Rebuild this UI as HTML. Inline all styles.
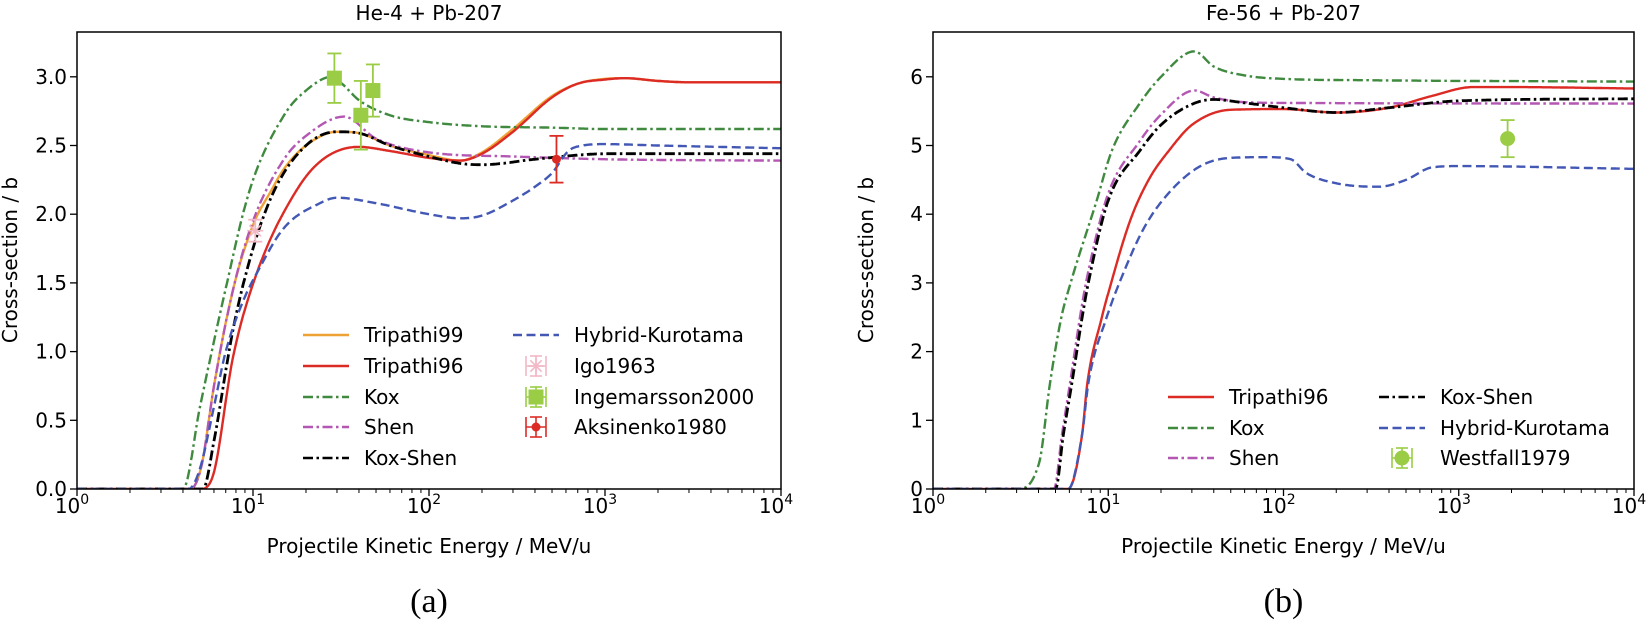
<!DOCTYPE html>
<html><head><meta charset="utf-8"><style>
html,body{margin:0;padding:0;background:#fff;}
svg{display:block;font-family:"DejaVu Sans","Liberation Sans",sans-serif;}
</style></head><body>
<svg id="s" width="1650" height="623" xmlns="http://www.w3.org/2000/svg"></svg>
<script>
const NS="http://www.w3.org/2000/svg";
const S=document.getElementById('s');
function el(t,a,p){const e=document.createElementNS(NS,t);for(const k in a)e.setAttribute(k,a[k]);(p||S).appendChild(e);return e;}
function txt(x,y,s,a){const e=el('text',Object.assign({x:x,y:y,'font-size':20,fill:'#000'},a||{}));e.textContent=s;return e;}
const C={orange:'#eea236',red:'#dc2b25',green:'#3f8a3f',mag:'#b357b3',blue:'#4358b5',lime:'#9acd45',pink:'#f2b8c6',black:'#000'};
const ST={solid:'',dashdot:'10,3.5,2.5,3.5',dash:'9,4.5'};
function mono(xs,ys){
 const n=xs.length,d=[],m=[];
 for(let i=0;i<n-1;i++)d.push((ys[i+1]-ys[i])/(xs[i+1]-xs[i]));
 m[0]=d[0];m[n-1]=d[n-2];
 for(let i=1;i<n-1;i++){m[i]=(d[i-1]*d[i]<=0)?0:(d[i-1]+d[i])/2;}
 for(let i=0;i<n-1;i++){if(d[i]==0){m[i]=0;m[i+1]=0;continue;}const a=m[i]/d[i],b=m[i+1]/d[i],s=a*a+b*b;if(s>9){const t=3/Math.sqrt(s);m[i]=t*a*d[i];m[i+1]=t*b*d[i];}}
 return x=>{let i=0;while(i<n-2&&x>xs[i+1])i++;const h=xs[i+1]-xs[i],t=(x-xs[i])/h,t2=t*t,t3=t2*t;
  return (2*t3-3*t2+1)*ys[i]+(t3-2*t2+t)*h*m[i]+(-2*t3+3*t2)*ys[i+1]+(t3-t2)*h*m[i+1];};
}
function panel(P){
 const X=e=>P.x0+P.dx*Math.log10(e), Y=s=>489-P.dy*s;
 const cid='c'+P.x0;
 const cp=el('clipPath',{id:cid});el('rect',{x:P.x0,y:32,width:P.x1-P.x0,height:457},cp);
 const g=el('g',{'clip-path':'url(#'+cid+')'});
 P.curves.forEach(c=>{
  const xs=c.d.map(p=>Math.log10(p[0])),ys=c.d.map(p=>p[1]);
  const f=mono(xs,ys);const pts=[];
  for(let lx=0;lx<=4.0001;lx+=0.004){pts.push([P.x0+P.dx*lx,Y(Math.max(0,f(lx)))]);}
  el('polyline',{points:pts.map(p=>p[0].toFixed(1)+','+p[1].toFixed(1)).join(' '),fill:'none',stroke:C[c.c],'stroke-width':c.w||2.4,'stroke-dasharray':ST[c.s]},g);
 });
 P.pts.forEach(p=>{
  const x=X(p.e),y=Y(p.v),y1=Y(p.v+p.err),y2=Y(p.v-p.err),col=C[p.c];
  el('line',{x1:x,y1:y1,x2:x,y2:y2,stroke:col,'stroke-width':1.8});
  el('line',{x1:x-7,y1:y1,x2:x+7,y2:y1,stroke:col,'stroke-width':1.8});
  el('line',{x1:x-7,y1:y2,x2:x+7,y2:y2,stroke:col,'stroke-width':1.8});
  marker(p.m,x,y,col);
 });
 el('rect',{x:P.x0,y:32,width:P.x1-P.x0,height:457,fill:'none',stroke:'#000','stroke-width':1.5});
 for(let k=0;k<=4;k++){
  const x=P.x0+P.dx*k;
  el('line',{x1:x,y1:489,x2:x,y2:496,stroke:'#000','stroke-width':1.3});
  const t=txt(x-5,513,'10',{'text-anchor':'middle'});
  const sup=el('tspan',{'font-size':14,dy:-9});sup.textContent=k;t.appendChild(sup);
  if(k<4)for(let m=2;m<=9;m++){const xm=x+P.dx*Math.log10(m);el('line',{x1:xm,y1:489,x2:xm,y2:493,stroke:'#000','stroke-width':1});}
 }
 P.yt.forEach(v=>{const y=Y(v);el('line',{x1:P.x0-7,y1:y,x2:P.x0,y2:y,stroke:'#000','stroke-width':1.3});txt(P.x0-10,y+7,P.yf(v),{'text-anchor':'end'});});
 txt((P.x0+P.x1)/2,553,'Projectile Kinetic Energy / MeV/u',{'text-anchor':'middle'});
 txt((P.x0+P.x1)/2,20,P.title,{'text-anchor':'middle'});
 txt(0,0,'Cross-section / b',{'text-anchor':'middle',transform:'translate('+(P.x0-60)+',260) rotate(-90)'});
 txt((P.x0+P.x1)/2,612,P.lab,{'text-anchor':'middle','font-size':34,'font-family':'"Liberation Serif",serif'});
 P.leg.forEach(l=>{
  if(l.s!==undefined){el('line',{x1:l.x,y1:l.y-7,x2:l.x+46,y2:l.y-7,stroke:C[l.c],'stroke-width':2.4,'stroke-dasharray':ST[l.s]});}
  else{const x=l.x+23,y=l.y-7,col=C[l.c];
   el('line',{x1:x,y1:y-10,x2:x,y2:y+10,stroke:col,'stroke-width':1.6});el('line',{x1:x-10,y1:y,x2:x+10,y2:y,stroke:col,'stroke-width':1.6});
   el('line',{x1:x-10,y1:y-10,x2:x-10,y2:y+10,stroke:col,'stroke-width':1.6});el('line',{x1:x+10,y1:y-10,x2:x+10,y2:y+10,stroke:col,'stroke-width':1.6});
   el('line',{x1:x-6,y1:y-10,x2:x+6,y2:y-10,stroke:col,'stroke-width':1.6});el('line',{x1:x-6,y1:y+10,x2:x+6,y2:y+10,stroke:col,'stroke-width':1.6});
   marker(l.m,x,y,col);}
  txt(l.x+61,l.y,l.t);
 });
}
function marker(m,x,y,col){
 if(m=='sq')el('rect',{x:x-7.5,y:y-7.5,width:15,height:15,fill:col});
 else if(m=='dot')el('circle',{cx:x,cy:y,r:4.5,fill:col});
 else if(m=='circ')el('circle',{cx:x,cy:y,r:7.5,fill:col});
 else if(m=='star'){for(let a=0;a<180;a+=45){const r=a*Math.PI/180;el('line',{x1:x-8*Math.cos(r),y1:y-8*Math.sin(r),x2:x+8*Math.cos(r),y2:y+8*Math.sin(r),stroke:col,'stroke-width':1.6});}}
}
panel({x0:77,x1:781,dx:176,dy:137.4,title:'He-4 + Pb-207',lab:'(a)',yt:[0,0.5,1,1.5,2,2.5,3],yf:v=>v.toFixed(1),
 curves:[
 {c:'orange',s:'solid',d:[[1,0],[4.4,0],[5.1,0.17],[6,0.75],[7.7,1.45],[10,1.92],[12.8,2.18],[15,2.33],[20,2.5],[30,2.6],[40,2.59],[60,2.5],[100,2.43],[150,2.39],[200,2.45],[300,2.62],[500,2.86],[700,2.95],[1000,2.985],[1300,2.99],[2000,2.97],[3000,2.96],[10000,2.96]]},
 {c:'red',s:'solid',d:[[1,0],[5.0,0],[5.93,0.1],[7.7,0.96],[10.5,1.57],[17.8,2.18],[25,2.4],[40,2.49],[60,2.46],[100,2.41],[150,2.39],[200,2.44],[300,2.6],[500,2.85],[700,2.95],[1000,2.98],[1300,2.99],[2000,2.97],[3000,2.96],[10000,2.96]]},
 {c:'green',s:'dashdot',d:[[1,0],[4,0],[5,0.6],[6.75,1.37],[9.6,2.18],[15,2.72],[20,2.9],[28,3.0],[32,2.95],[40,2.83],[60,2.72],[100,2.67],[200,2.64],[500,2.63],[1000,2.62],[10000,2.62]]},
 {c:'mag',s:'dashdot',d:[[1,0],[4.4,0],[5.1,0.17],[6,0.75],[7.7,1.45],[10,1.95],[15,2.4],[20,2.57],[33,2.71],[50,2.55],[100,2.45],[300,2.42],[1000,2.40],[10000,2.39]]},
 {c:'black',s:'dashdot',w:2.8,d:[[1,0],[5.2,0],[6,0.35],[7.7,1.16],[10,1.75],[13.3,2.18],[20,2.5],[30,2.6],[40,2.59],[60,2.5],[100,2.42],[150,2.37],[200,2.36],[400,2.4],[700,2.43],[1000,2.44],[10000,2.44]]},
 {c:'blue',s:'dash',d:[[1,0],[4.3,0],[5,0.15],[6,0.6],[7,1.0],[8.8,1.37],[10.5,1.57],[15,1.9],[24,2.08],[30,2.12],[50,2.08],[100,2.0],[150,1.97],[200,1.99],[300,2.1],[400,2.2],[500,2.3],[620,2.46],[750,2.5],[1000,2.51],[2000,2.5],[10000,2.48]]},
 ],
 pts:[{e:10.3,v:1.88,err:0.08,c:'pink',m:'star'},{e:29,v:2.99,err:0.18,c:'lime',m:'sq'},{e:41,v:2.72,err:0.25,c:'lime',m:'sq'},{e:48,v:2.9,err:0.19,c:'lime',m:'sq'},{e:530,v:2.40,err:0.17,c:'red',m:'dot'}],
 leg:[{x:303,y:342,t:'Tripathi99',c:'orange',s:'solid'},{x:303,y:373,t:'Tripathi96',c:'red',s:'solid'},{x:303,y:404,t:'Kox',c:'green',s:'dashdot'},{x:303,y:434,t:'Shen',c:'mag',s:'dashdot'},{x:303,y:465,t:'Kox-Shen',c:'black',s:'dashdot'},
  {x:513,y:342,t:'Hybrid-Kurotama',c:'blue',s:'dash'},{x:513,y:373,t:'Igo1963',c:'pink',m:'star'},{x:513,y:404,t:'Ingemarsson2000',c:'lime',m:'sq'},{x:513,y:434,t:'Aksinenko1980',c:'red',m:'dot'}]
});
panel({x0:933,x1:1634,dx:175.25,dy:68.7,title:'Fe-56 + Pb-207',lab:'(b)',yt:[0,1,2,3,4,5,6],yf:v=>String(v),
 curves:[
 {c:'red',s:'solid',d:[[1,0],[5.9,0],[7.1,0.8],[7.6,1.54],[9.2,2.5],[10,2.85],[13.3,3.9],[17,4.5],[22.6,4.95],[30,5.3],[50,5.52],[100,5.53],[200,5.48],[400,5.55],[700,5.72],[1200,5.85],[2000,5.85],[10000,5.83]]},
 {c:'green',s:'dashdot',d:[[1,0],[3,0],[4.03,0.38],[4.65,1.54],[5.4,2.5],[6.1,3.0],[8.6,4.2],[10.5,4.93],[15,5.6],[20,6.0],[31,6.37],[40,6.15],[60,6.02],[100,5.97],[300,5.95],[10000,5.93]]},
 {c:'mag',s:'dashdot',d:[[1,0],[4.9,0],[5.45,0.8],[6.1,1.6],[7,2.6],[7.6,3.1],[10,4.3],[15,5.05],[20,5.45],[31,5.8],[40,5.7],[60,5.63],[100,5.62],[10000,5.61]]},
 {c:'black',s:'dashdot',w:2.8,d:[[1,0],[5,0],[5.55,0.8],[6.2,1.54],[7.1,2.5],[7.7,3.0],[10,4.2],[15.2,4.93],[20,5.3],[30,5.6],[40,5.67],[60,5.62],[100,5.55],[200,5.48],[400,5.55],[1000,5.65],[10000,5.68]]},
 {c:'blue',s:'dash',d:[[1,0],[5.9,0],[7.1,0.8],[7.7,1.54],[9.8,2.5],[12,3.1],[16,3.8],[22,4.3],[33,4.69],[50,4.82],[80,4.83],[110,4.8],[135,4.6],[200,4.45],[350,4.4],[500,4.5],[700,4.68],[1000,4.7],[10000,4.66]]},
 ],
 pts:[{e:1900,v:5.1,err:0.27,c:'lime',m:'circ'}],
 leg:[{x:1168,y:404,t:'Tripathi96',c:'red',s:'solid'},{x:1168,y:435,t:'Kox',c:'green',s:'dashdot'},{x:1168,y:465,t:'Shen',c:'mag',s:'dashdot'},
  {x:1379,y:404,t:'Kox-Shen',c:'black',s:'dashdot'},{x:1379,y:435,t:'Hybrid-Kurotama',c:'blue',s:'dash'},{x:1379,y:465,t:'Westfall1979',c:'lime',m:'circ'}]
});
</script>
</body></html>
